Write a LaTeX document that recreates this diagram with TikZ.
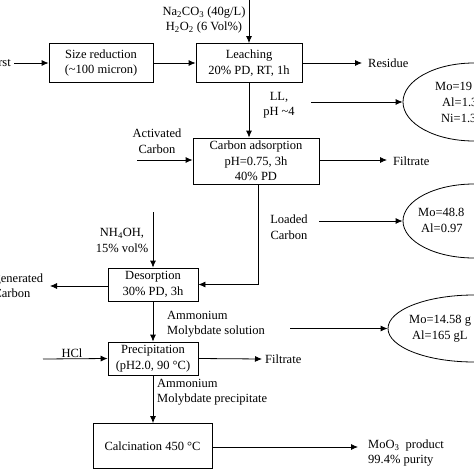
\documentclass[tikz,border=0pt]{standalone}
\usepackage{fontspec}
\setmainfont{Liberation Serif}
\usetikzlibrary{arrows.meta,shapes.geometric}
\tikzset{
  txt/.style={font=\fontsize{12.5}{15.5}\selectfont, inner sep=0pt, align=center},
  procbox/.style={draw, line width=0.8pt, txt},
  oval/.style={draw, line width=0.8pt, ellipse, inner sep=0pt},
  flow/.style={line width=0.8pt, -{Latex[length=7pt,width=6pt]}},
  plain/.style={line width=0.8pt},
}
\begin{document}
\begin{tikzpicture}[x=1pt,y=-1pt]
\useasboundingbox (0,0) rectangle (474,474);
% process boxes
\node[procbox, minimum width=104pt, minimum height=39pt] (size) at (101,63) {Size reduction\\(\textasciitilde100 micron)};
\node[procbox, minimum width=106pt, minimum height=39pt] (leach) at (249,63) {Leaching\\20\% PD, RT, 1h};
\node[procbox, minimum width=126pt, minimum height=46pt] (carb) at (256,161) {Carbon adsorption\\pH=0.75, 3h\\40\% PD};
\node[procbox, minimum width=90pt, minimum height=33pt] (desorp) at (153,284.5) {Desorption\\30\% PD, 3h};
\node[procbox, minimum width=90pt, minimum height=33pt] (precip) at (153,358.5) {Precipitation\\(pH2.0, 90 °C)};
\node[procbox, minimum width=119pt, minimum height=45pt] (calc) at (152.5,446) {Calcination 450 °C};
% ellipses
\node[oval, minimum width=142pt, minimum height=78pt] (e1) at (474,102) {};
\node[oval, minimum width=142pt, minimum height=74pt] (e2) at (474,221) {};
\node[oval, minimum width=172pt, minimum height=67pt] (e3) at (474,328.5) {};
\node[txt, anchor=west] (e1a) at (435,86) {Mo=19};
\node[txt, anchor=west] (e1b) at (442,102) {Al=1.3};
\node[txt, anchor=west] (e1c) at (441,118) {Ni=1.3};
\node[txt, anchor=west] (e2a) at (418,212) {Mo=48.8};
\node[txt, anchor=west] (e2b) at (421,228) {Al=0.97};
\node[txt, anchor=west] (e3a) at (409,321) {Mo=14.58 g};
\node[txt, anchor=west] (e3b) at (412,337) {Al=165 gL};
% labels
\node[txt, anchor=east] (feed) at (11,63) {rst};
\node[txt] (reag) at (204,20) {Na\textsubscript{2}CO\textsubscript{3} (40g/L)\\H\textsubscript{2}O\textsubscript{2} (6 Vol\%)};
\node[txt, anchor=west] (res) at (368,63) {Residue};
\node[txt] (ll) at (279,105) {LL,\\pH \textasciitilde4};
\node[txt] (act) at (157,141) {Activated\\Carbon};
\node[txt, anchor=west] (filt1) at (393,161) {Filtrate};
\node[txt] (load) at (289,227) {Loaded\\Carbon};
\node[txt] (nh) at (122,240.5) {NH\textsubscript{4}OH,\\15\% vol\%};
\node[txt] (regen) at (12,285.5) {Regenerated\\Carbon};
\node[txt, anchor=west, align=left] (amsol) at (167,324) {Ammonium\\Molybdate solution};
\node[txt] (hcl) at (72,353) {HCl};
\node[txt, anchor=west] (filt2) at (265,359) {Filtrate};
\node[txt, anchor=west, align=left] (amppt) at (157,392) {Ammonium\\Molybdate precipitate};
\node[txt, anchor=west, align=left] (prod) at (368,453) {MoO\textsubscript{3}\ \ product\\99.4\% purity};
% connector end points
\coordinate (feedS) at (14,63);
\coordinate (reagS) at (249,0);
\coordinate (resE) at (362,63);
\coordinate (llS) at (311,102);
\coordinate (actS) at (137,160);
\coordinate (filt1E) at (387,160);
\coordinate (carbOut) at (258,184);
\coordinate (bend) at (258,284.5);
\coordinate (loadS) at (319,221);
\coordinate (nhS) at (153,212);
\coordinate (regenE) at (50,286);
\coordinate (amS) at (290,328.5);
\coordinate (hclS) at (43,359);
\coordinate (filt2E) at (262,359);
\coordinate (prodE) at (358,447);
% connectors
\draw[flow] (feedS) -- (size.west);
\draw[flow] (size.east) -- (leach.west);
\draw[flow] (reagS) -- (leach.north);
\draw[flow] (leach.east) -- (resE);
\draw[flow] (leach.south) -- (leach.south |- carb.north);
\draw[flow] (llS) -- (e1.west);
\draw[flow] (actS) -- (actS -| carb.west);
\draw[flow] (carb.east |- filt1E) -- (filt1E);
\draw[plain] (carbOut) -- (bend);
\draw[flow] (bend) -- (desorp.east);
\draw[flow] (loadS) -- (e2.west);
\draw[flow] (nhS) -- (desorp.north);
\draw[flow] (desorp.west |- regenE) -- (regenE);
\draw[flow] (desorp.south) -- (precip.north);
\draw[flow] (amS) -- (e3.west);
\draw[flow] (hclS) -- (precip.west);
\draw[flow] (precip.east) -- (filt2E);
\draw[flow] (precip.south) -- (precip.south |- calc.north);
\draw[flow] (calc.east |- prodE) -- (prodE);
\end{tikzpicture}
\end{document}
